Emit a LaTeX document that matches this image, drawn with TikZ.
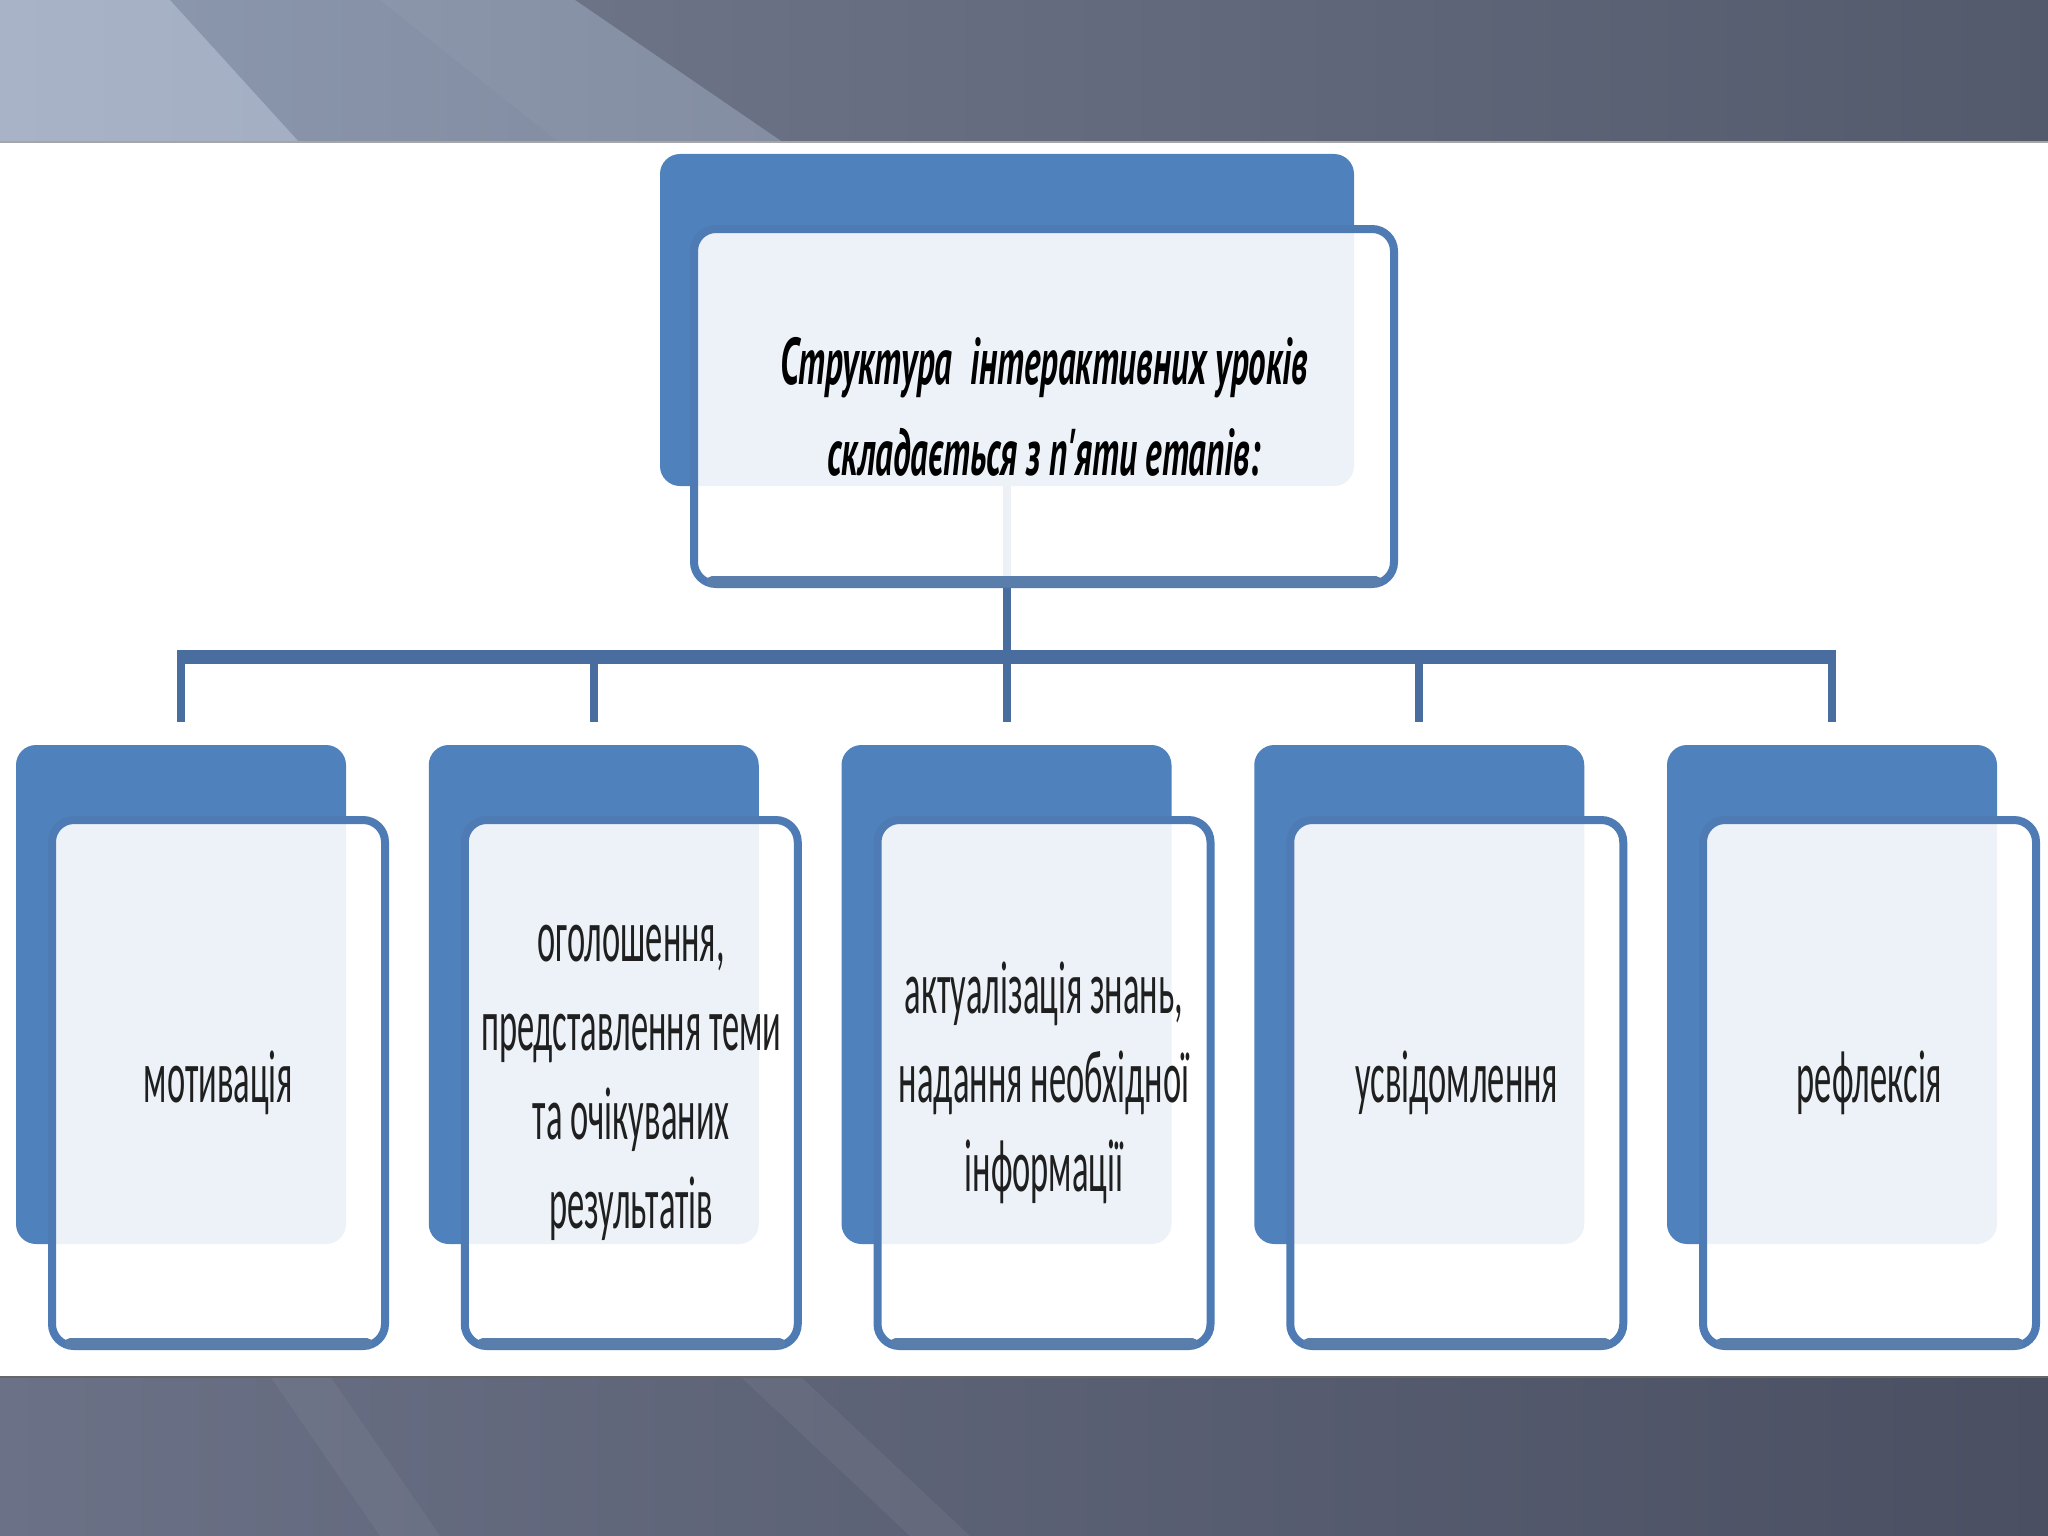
\documentclass[tikz,border=0pt]{standalone}
\usepackage{fontspec}
\setmainfont{Carlito}
\newfontfamily\boxfont{Carlito}[FakeStretch=0.46]
\newfontfamily\titlefont{PT Sans}[FakeStretch=0.53]
\definecolor{sblue}{HTML}{4F81BD}
\definecolor{frontblue}{HTML}{4F7BB5}
\definecolor{shadowblue}{HTML}{5A7EAC}
\definecolor{linkblue}{HTML}{4A6D9F}
\definecolor{bandA}{HTML}{A8B3C7}
\definecolor{bandB}{HTML}{8A96AC}
\definecolor{bandC}{HTML}{767D92}
\definecolor{bandD}{HTML}{535A6C}
\definecolor{bandE}{HTML}{6B7186}
\definecolor{bandF}{HTML}{4A4F62}
\pgfdeclarelayer{bands}
\pgfdeclarelayer{links}
\pgfsetlayers{bands,links,main}
\tikzset{
  backbox/.style={fill=sblue, draw=none, rounded corners=20pt, inner sep=0pt},
  smallback/.style={backbox, minimum width=330pt, minimum height=499pt},
  frontbox/.style={draw=frontblue, line width=8pt, fill=white, fill opacity=0.9,
    text opacity=1, rounded corners=22pt, inner sep=0pt, align=center},
  smallfront/.style={frontbox, minimum width=333pt, minimum height=526pt,
    font=\boxfont\fontsize{75}{89}\selectfont, text=black!88},
  bottomedge/.style={draw=shadowblue, line width=11pt, line cap=round},
  barline/.style={draw=linkblue, line width=14pt},
  dropline/.style={draw=linkblue, line width=8pt},
}
\begin{document}
\begin{tikzpicture}[x=1pt,y=-1pt]
\useasboundingbox (0,0) rectangle (2048,1536);
% boxes
\node[backbox, minimum width=694pt, minimum height=332pt] (tb) at (1007,320) {};
\node[frontbox, minimum width=700pt, minimum height=355pt,
  font=\titlefont\bfseries\itshape\fontsize{66}{91}\selectfont, text=black] (tf) at (1044,406.5)
  {Структура~ інтерактивних уроків\\складається з п'яти етапів:};
\draw[bottomedge] ([xshift=22pt,yshift=6.5pt]tf.south west) -- ([xshift=-22pt,yshift=6.5pt]tf.south east);
\foreach \i/\txt in {1/{мотивація},
  2/{оголошення,\\представлення теми\\та очікуваних\\результатів},
  3/{актуалізація знань,\\надання необхідної\\інформації},
  4/{усвідомлення},
  5/{рефлексія}}{
  \pgfmathsetmacro{\bx}{181+412.75*(\i-1)}
  \node[smallback] (b\i) at (\bx,994.5) {};
  \node[smallfront] (f\i) at (\bx+37.5,1083) {\txt};
  \draw[bottomedge] ([xshift=22pt,yshift=6.5pt]f\i.south west) -- ([xshift=-22pt,yshift=6.5pt]f\i.south east);
}
\coordinate (barc) at (1007,657);
% links
\begin{pgfonlayer}{links}
\draw[dropline] (tb.south) -- (tb.south |- barc);
\draw[barline, shorten <=-4pt, shorten >=-4pt] (b1.north |- barc) -- (b5.north |- barc);
\foreach \i in {1,...,5}{
  \draw[dropline, shorten >=23pt] (b\i.north |- barc) -- (b\i.north);
}
\end{pgfonlayer}
% background bands
\begin{pgfonlayer}{bands}
\fill[white] (0,0) rectangle (2048,1536);
\shade[left color=bandC, right color=bandD] (0,0) rectangle (2048,143);
\shade[left color=bandB, right color=bandC!50!bandB] (170,0) -- (575,0) -- (784,143) -- (300,143) -- cycle;
\fill[white, opacity=0.04] (380,0) -- (575,0) -- (784,143) -- (560,143) -- cycle;
\shade[left color=bandA, right color=bandA!85!bandB] (0,0) -- (170,0) -- (300,143) -- (0,143) -- cycle;
\draw[gray!70, line width=2pt] (0,142) -- (2048,142);
\shade[left color=bandE, right color=bandF] (0,1376) rectangle (2048,1536);
\fill[white, opacity=0.05] (270,1376) -- (330,1376) -- (440,1536) -- (380,1536) -- cycle;
\fill[white, opacity=0.05] (740,1376) -- (800,1376) -- (970,1536) -- (910,1536) -- cycle;
\draw[gray!80!black, line width=2pt] (0,1377) -- (2048,1377);
\end{pgfonlayer}
\end{tikzpicture}
\end{document}
